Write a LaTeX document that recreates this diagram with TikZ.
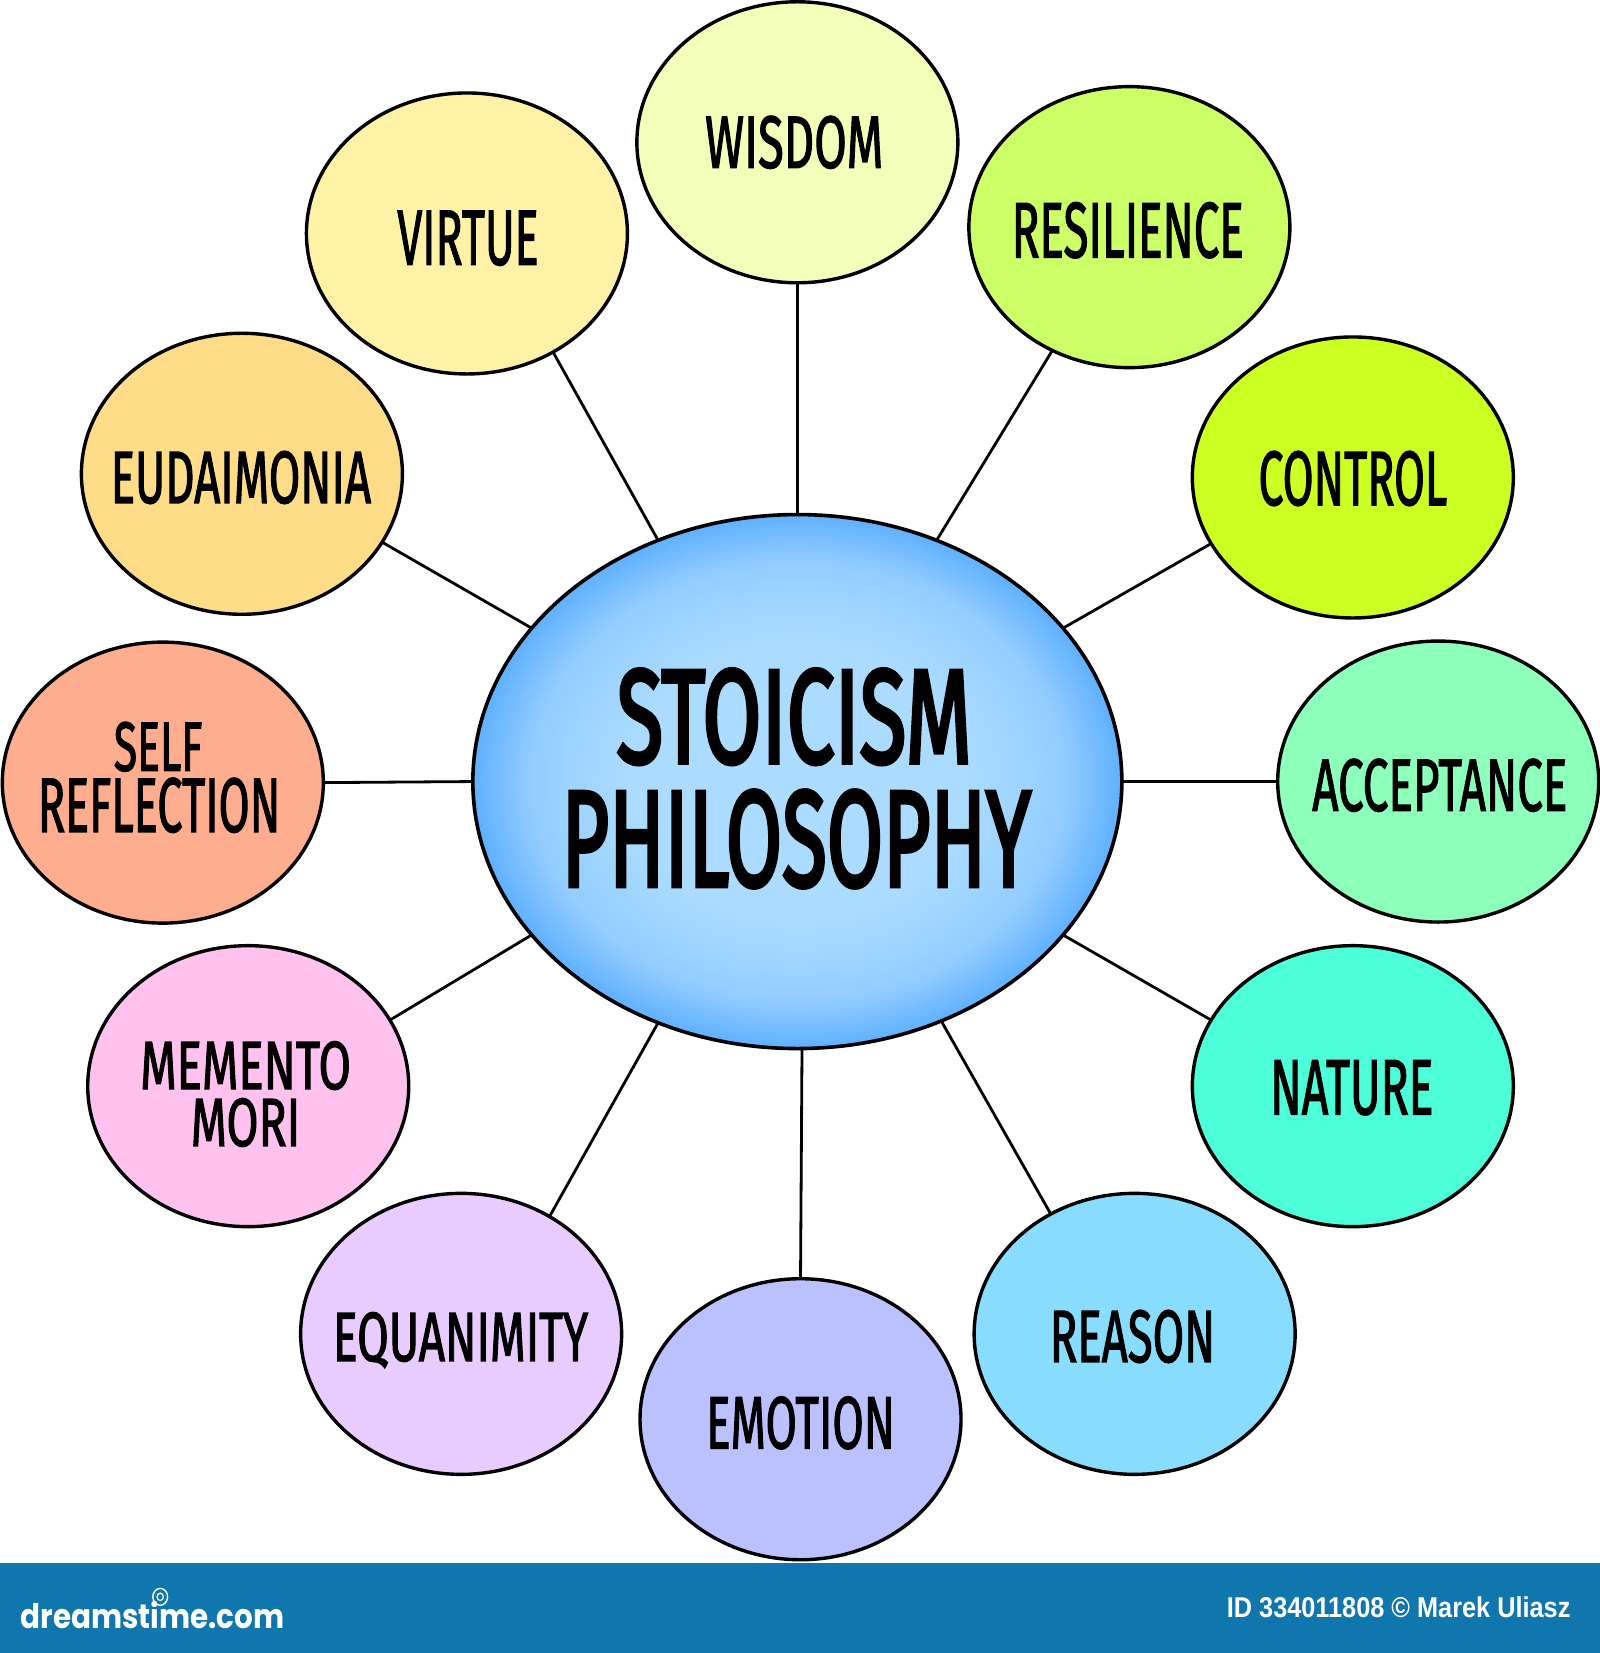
\documentclass[tikz,border=0pt]{standalone}
\usepackage{graphicx}
\usepackage{fontspec}
\setmainfont{Fira Sans}
\newfontfamily\hwfont[FakeBold=2]{Fira Sans}
\newfontfamily\hwbigfont[FakeBold=3.5]{Fira Sans}
\newfontfamily\barfont{Liberation Sans}
\newfontfamily\logofont{Poppins}
\usetikzlibrary{shapes.geometric}
\newdimen\unitd \unitd=1.054pt
\newcommand{\fit}[3]{\resizebox*{#1\unitd}{#2\unitd}{\mbox{#3}}}
\definecolor{cwisdom}{HTML}{F3FFB8}
\definecolor{cresil}{HTML}{CCFF66}
\definecolor{ccontrol}{HTML}{CCFF22}
\definecolor{caccept}{HTML}{8CFFBB}
\definecolor{cnature}{HTML}{4DFFD9}
\definecolor{creason}{HTML}{88DDFF}
\definecolor{cemotion}{HTML}{BBC0FF}
\definecolor{cequan}{HTML}{E8CCFF}
\definecolor{cmemento}{HTML}{FFC2EE}
\definecolor{cself}{HTML}{FFAD8F}
\definecolor{ceudai}{HTML}{FFDD88}
\definecolor{cvirtue}{HTML}{FFF2A6}
\definecolor{cbar}{HTML}{0F76AE}
\definecolor{hubin}{HTML}{ABDCFF}
\definecolor{hubmid}{HTML}{93CDFF}
\definecolor{hubout}{HTML}{5FB0FF}
\pgfdeclareradialshading{hubshade}{\pgfpoint{0bp}{0bp}}{%
  color(0bp)=(hubin); color(13bp)=(hubin); color(20.5bp)=(hubmid); color(25bp)=(hubout); color(50bp)=(hubout)}
\tikzset{
  bubble/.style={ellipse,draw=black,line width=3.4pt,minimum width=321pt,minimum height=281pt,inner sep=0pt,outer sep=0pt},
  hubshape/.style={ellipse,draw=black,line width=3.6pt,minimum width=649pt,minimum height=534pt,inner sep=0pt,outer sep=0pt,
    shading=hubshade},
  link/.style={line width=2.8pt,draw=black},
  lbl/.style={inner sep=0pt,outer sep=0pt,text=black,font=\hwfont},
  biglbl/.style={inner sep=0pt,outer sep=0pt,text=black,font=\hwbigfont},
  barlbl/.style={inner sep=0pt,outer sep=0pt,text=white}
}
\begin{document}
\begin{tikzpicture}[x=1.054pt,y=-1.054pt]
\useasboundingbox (0,0) rectangle (1518,1568.3);
\fill[cbar] (0,1483) rectangle (1518,1568.3);

\node[hubshape] (hub) at (756.5,741.5) {};

\node[bubble,fill=cwisdom]  (wisdom)  at (756.5,135)   {};
\node[bubble,fill=cresil]   (resil)   at (1071.5,215.5){};
\node[bubble,fill=ccontrol] (control) at (1283.5,453)  {};
\node[bubble,fill=caccept]  (accept)  at (1364.5,741.5){};
\node[bubble,fill=cnature]  (nature)  at (1283.5,1030.5){};
\node[bubble,fill=creason]  (reason)  at (1076.5,1265.5){};
\node[bubble,fill=cemotion] (emotion) at (759.5,1346.5){};
\node[bubble,fill=cequan]   (equan)   at (437.5,1265.5){};
\node[bubble,fill=cmemento] (memento) at (235.5,1030.5){};
\node[bubble,fill=cself]    (self)    at (154.5,742.5) {};
\node[bubble,fill=ceudai]   (eudai)   at (229.5,449.5) {};
\node[bubble,fill=cvirtue]  (virtue)  at (443,221.5)   {};

\draw[link] (hub.90) -- (wisdom.-90);
\draw[link] (hub.60.2) -- (resil.-122.8);
\draw[link] (hub.30.2) -- (control.205.1);
\draw[link] (hub.0) -- (accept.180);
\draw[link] (hub.-30) -- (nature.155);
\draw[link] (hub.-59.6) -- (reason.125.3);
\draw[link] (hub.-89.5) -- (emotion.90);
\draw[link] (hub.-120.2) -- (equan.53.3);
\draw[link] (hub.-150.3) -- (memento.25.3);
\draw[link] (hub.180) -- (self.0);
\draw[link] (hub.150) -- (eudai.-26.8);
\draw[link] (hub.120.3) -- (virtue.-54.4);

\node[lbl] (t1) at (753.5,135)  {\fit{169}{50}{WISDOM}};
\node[lbl] (t2) at (444,226)    {\fit{134}{52}{VIRTUE}};
\node[lbl] (t3) at (1070,218.5) {\fit{220}{53}{RESILIENCE}};
\node[lbl] (t4) at (228.5,453)  {\fit{247}{50}{EUDAIMONIA}};
\node[lbl] (t5) at (1283.5,454) {\fit{179}{52}{CONTROL}};
\node[lbl] (t6) at (1366,745)   {\fit{242}{50}{ACCEPTANCE}};
\node[lbl] (t7) at (150,708.5)  {\fit{84}{47}{SELF}};
\node[lbl] (t8) at (151,764)    {\fit{230}{52}{REFLECTION}};
\node[lbl] (t9) at (233,1011)   {\fit{200}{46}{MEMENTO}};
\node[lbl] (t10) at (233,1065)  {\fit{104}{46}{MORI}};
\node[lbl] (t11) at (1282.5,1032){\fit{155}{52}{NATURE}};
\node[lbl] (t12) at (437,1271.5){\fit{242}{53}{EQUANIMITY}};
\node[lbl] (t13) at (759.5,1350){\fit{179}{50}{EMOTION}};
\node[lbl] (t14) at (1074.5,1268){\fit{157}{50}{REASON}};
\node[biglbl] (t15) at (753.5,680) {\fit{337}{90}{STOICISM}};
\node[biglbl] (t16) at (755.5,796) {\fit{445}{92}{PHILOSOPHY}};

\node[barlbl] (logo) at (144.5,1532) {\fit{250}{26}{\logofont\bfseries dreamstime.com}};
\node[barlbl] (idtxt) at (1327,1525) {\fit{326}{20}{\barfont\bfseries ID 334011808 © Marek Uliasz}};
\draw[white,line width=1.4pt] (152,1515) ellipse (7 and 8);
\draw[white,line width=1.2pt] (152,1515) ellipse (3 and 3.5);
\end{tikzpicture}
\end{document}
